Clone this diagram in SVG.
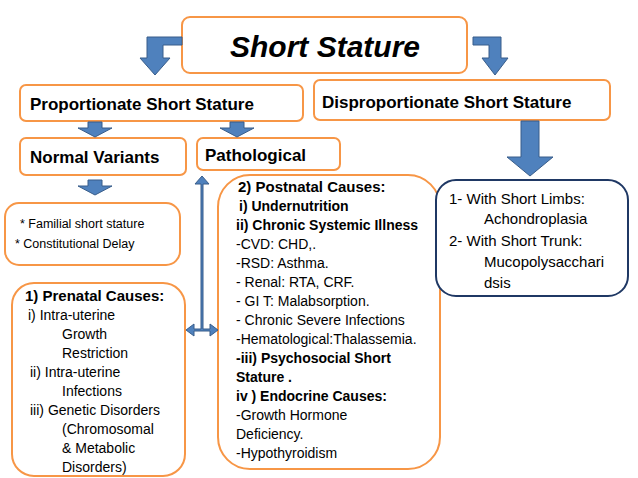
<svg xmlns="http://www.w3.org/2000/svg" width="638" height="478" viewBox="0 0 638 478">
<style>
.b{fill:#fff;stroke:#f79646;stroke-width:2}
.n{fill:#fff;stroke:#1f3864;stroke-width:2}
.a{fill:#4f81bd;stroke:#385d8a;stroke-width:1}
text{font-family:"Liberation Sans",Arial,sans-serif;fill:#000}
.h{font-size:17px;font-weight:bold}
.t{font-size:14px}
.tb{font-size:14px;font-weight:bold}
.r{font-size:15px}
</style>
<rect width="638" height="478" fill="#fff"/>
<g id="title"><rect class="b" x="182" y="17" width="285" height="56" rx="8"/><text x="325" y="57" text-anchor="middle" style="font-size:30px;font-weight:bold;font-style:italic">Short Stature</text></g>
<g id="proportionate"><rect class="b" x="20" y="85" width="283" height="36" rx="6"/><text class="h" x="30" y="110">Proportionate Short Stature</text></g>
<g id="disproportionate"><rect class="b" x="314" y="80" width="296" height="40" rx="6"/><text class="h" x="322" y="108">Disproportionate Short Stature</text></g>
<g id="normal"><rect class="b" x="20" y="138" width="166" height="37" rx="6"/><text class="h" x="30" y="163">Normal Variants</text></g>
<g id="pathological"><rect class="b" x="197" y="138" width="143" height="32" rx="6"/><text class="h" x="205" y="161">Pathological</text></g>
<g id="familial"><rect class="b" x="5" y="203" width="175" height="62" rx="14"/><text x="20" y="228" style="font-size:12.5px">* Familial short stature</text><text x="15" y="248" style="font-size:12.5px">* Constitutional Delay</text></g>
<g id="prenatal"><rect class="b" x="12" y="283" width="173" height="193" rx="22"/>
<text x="25" y="301" style="font-size:15px;font-weight:bold">1) Prenatal Causes:</text>
<text class="t" x="28" y="320">i) Intra-uterine</text><text class="t" x="62" y="339">Growth</text><text class="t" x="62" y="358">Restriction</text>
<text class="t" x="30" y="377">ii) Intra-uterine</text><text class="t" x="62" y="396">Infections</text>
<text class="t" x="30" y="415">iii) Genetic Disorders</text><text class="t" x="62" y="434">(Chromosomal</text><text class="t" x="62" y="453">&amp; Metabolic</text><text class="t" x="62" y="472">Disorders)</text></g>
<g id="postnatal"><rect class="b" x="218" y="175" width="222" height="294" rx="32"/>
<text x="238" y="192" style="font-size:15px;font-weight:bold">2) Postnatal Causes:</text>
<text class="tb" x="239" y="211">i) Undernutrition</text>
<text class="tb" x="236" y="230">ii) Chronic Systemic Illness</text>
<text class="t" x="236" y="249">-CVD: CHD,.</text>
<text class="t" x="236" y="268">-RSD: Asthma.</text>
<text class="t" x="236" y="287">- Renal: RTA, CRF.</text>
<text class="t" x="236" y="306">- GI T: Malabsorption.</text>
<text class="t" x="236" y="325">- Chronic Severe Infections</text>
<text class="t" x="236" y="344">-Hematological:Thalassemia.</text>
<text class="tb" x="236" y="363">-iii) Psychosocial Short</text>
<text class="tb" x="236" y="382">Stature .</text>
<text class="tb" x="236" y="401">iv ) Endocrine Causes:</text>
<text class="t" x="236" y="420">-Growth Hormone</text>
<text class="t" x="236" y="439">Deficiency.</text>
<text class="t" x="236" y="458">-Hypothyroidism</text></g>
<g id="disprop-types"><rect class="n" x="436" y="180" width="192" height="116" rx="20"/>
<text class="r" x="449" y="204">1- With Short Limbs:</text><text class="r" x="484" y="224">Achondroplasia</text>
<text class="r" x="449" y="246">2- With Short Trunk:</text><text class="r" x="484" y="267">Mucopolysacchari</text><text class="r" x="484" y="288">dsis</text></g>
<g id="connectors">
<path class="a" d="M182,37 H147 V58 H140 L155,75 L170,58 H163 V45 H182 Z"/>
<path class="a" d="M473,37 H501 V58 H508 L495,75 L482,58 H489 V45 H473 Z"/>
<path class="a" d="M88,122 H102 V128 H112 L95,137 L78,128 H88 Z"/>
<path class="a" d="M230,122 H244 V128 H254 L237,137 L220,128 H230 Z"/>
<path class="a" d="M88,180 H102 V186 H112 L95,195 L78,186 H88 Z"/>
<path class="a" d="M521,121 H539 V157 H553 L530,176 L507,157 H521 Z"/>
<path class="a" d="M201,184 H195 L202,176 L209,184 H203 V329 H210 V324 L218,330 L210,336 V331 H194 V336 L186,330 L194,324 V329 H201 Z"/>
</g>
</svg>
